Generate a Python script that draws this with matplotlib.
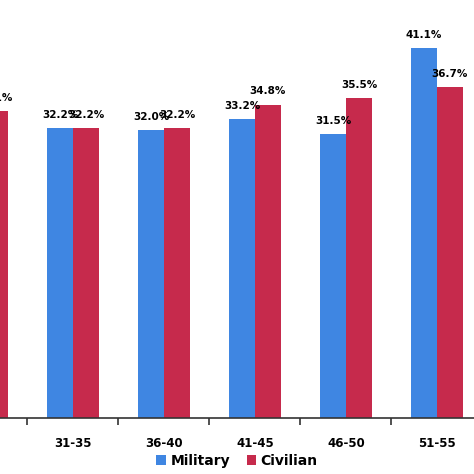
import numpy as np
import matplotlib.pyplot as plt

categories = ['26-30', '31-35', '36-40', '41-45', '46-50', '51-55', '56-60']
military = [30.5, 32.2, 32.0, 33.2, 31.5, 41.1, 35.0]
civilian = [34.1, 32.2, 32.2, 34.8, 35.5, 36.7, 36.0]

blue = '#3f86e2'
red = '#c62a4c'

fig = plt.figure(figsize=(4.74, 4.74), dpi=100)
ax = fig.add_axes([0, 56 / 474, 1, 418 / 474])

x = np.arange(len(categories))
w = 0.286
b1 = ax.bar(x - w / 2, military, w, color=blue, label='Military')
b2 = ax.bar(x + w / 2, civilian, w, color=red, label='Civilian')

for bars, vals in ((b1, military), (b2, civilian)):
    for b, v in zip(bars, vals):
        ax.text(b.get_x() + b.get_width() / 2, v + 0.9, f'{v:.1f}%',
                ha='center', va='bottom', fontsize=7.5, fontweight='bold')

ax.set_xticks(x)
ax.set_xticklabels(categories, fontsize=8.5, fontweight='bold')
ax.tick_params(axis='x', length=0, pad=14)
ax.set_xticks(x[:-1] + 0.5, minor=True)
ax.tick_params(axis='x', which='minor', length=5, width=1.2, color='#333333')
ax.set_yticks([])
ax.set_xlim(0.198, 5.407)
ax.set_ylim(0, 46.4)
for s in ['top', 'right', 'left']:
    ax.spines[s].set_visible(False)
ax.spines['bottom'].set_color('#333333')
ax.spines['bottom'].set_linewidth(1.2)

fig.legend(handles=[b1, b2], loc='center', bbox_to_anchor=(0.5, 12 / 474 + 0.003),
           ncol=2, frameon=False, prop={'size': 10, 'weight': 'bold'},
           handlelength=0.7, handleheight=0.7, handletextpad=0.3, columnspacing=1.2)

fig.savefig('out.png', dpi=100)
